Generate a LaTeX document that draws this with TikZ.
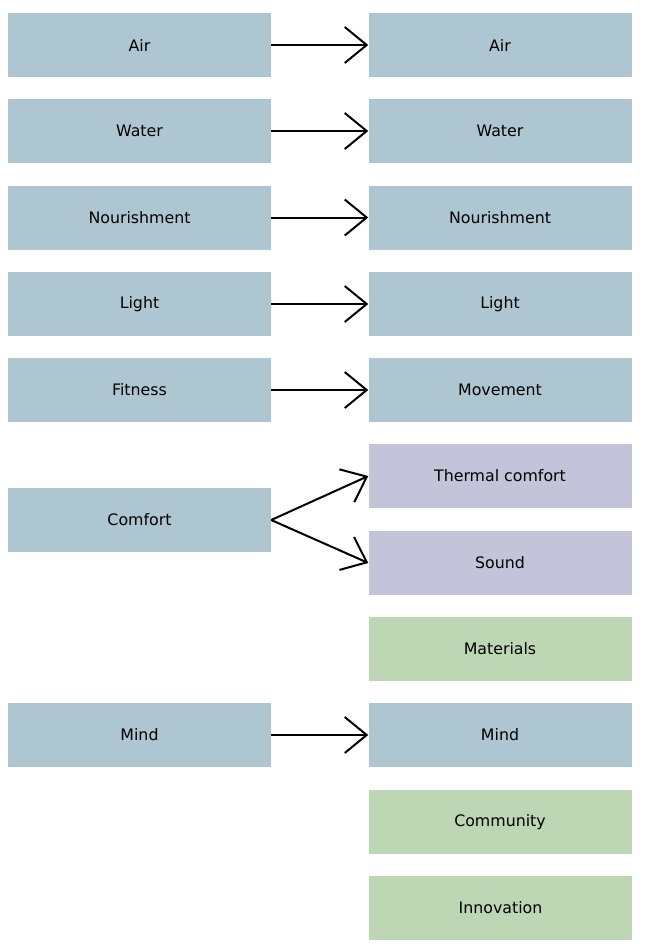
\documentclass[tikz,border=0pt]{standalone}
\usepackage{fontspec}
\setmainfont{DejaVu Sans}
\usetikzlibrary{arrows.meta}
\definecolor{bbox}{HTML}{ADC6D1}
\definecolor{pbox}{HTML}{C3C3DA}
\definecolor{gbox}{HTML}{BDD6B3}
\begin{document}
\begin{tikzpicture}[x=1pt,y=-1pt,
  cat/.style={fill=#1,draw=none,minimum width=263pt,minimum height=64pt,inner sep=0pt,font=\fontsize{15.8}{18}\selectfont},
  conn/.style={line width=2pt,-{Straight Barb[length=22pt,width=36pt,line width=2pt]}}]
\useasboundingbox (0,0) rectangle (645,948);
\foreach \n/\t/\y in {la/Air/45, lw/Water/131, ln/Nourishment/217.5, ll/Light/304, lf/Fitness/390, lc/Comfort/520, lm/Mind/735}
  \node[cat=bbox] (\n) at (139.5,\y) {\t};
\foreach \n/\t/\y in {ra/Air/45, rw/Water/131, rn/Nourishment/217.5, rl/Light/304, rf/Movement/390, rm/Mind/735}
  \node[cat=bbox] (\n) at (500,\y) {\t};
\node[cat=pbox] (rt) at (500,476) {Thermal comfort};
\node[cat=pbox] (rs) at (500,563) {Sound};
\node[cat=gbox] (rma) at (500,649) {Materials};
\node[cat=gbox] (rc) at (500,822) {Community};
\node[cat=gbox] (ri) at (500.5,908) {Innovation};
\foreach \a/\b in {la/ra, lw/rw, ln/rn, ll/rl, lf/rf, lm/rm}
  \draw[conn] (\a.east) -- (\b.west);
\draw[conn] (lc.east) -- (rt.west);
\draw[conn] (lc.east) -- (rs.west);
\end{tikzpicture}
\end{document}
